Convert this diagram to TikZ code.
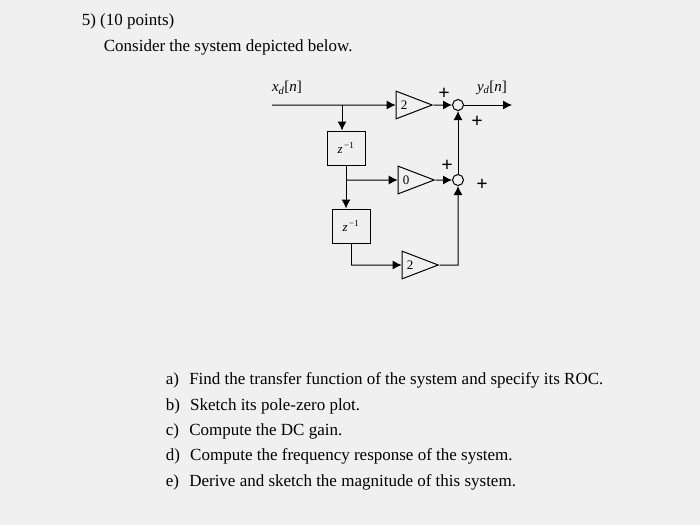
\documentclass[tikz,border=0pt]{standalone}
\usepackage{fontspec}
\setmainfont{Liberation Serif}
\usetikzlibrary{shapes.geometric,arrows.meta}
\tikzset{
	gain/.style={draw,isosceles triangle,isosceles triangle apex angle=42,minimum height=36pt,inner sep=1pt,font=\fontsize{13}{14}\selectfont},
	delay/.style={draw,minimum width=38pt,minimum height=34pt,font=\fontsize{13}{14}\selectfont},
	adder/.style={draw,circle,minimum size=11pt,inner sep=0pt},
	sig/.style={-{Latex[length=9pt,width=9pt]}},
	lbl/.style={font=\fontsize{15}{16}\selectfont},
	sign/.style={font=\fontsize{20}{20}\selectfont\bfseries},
	txt/.style={anchor=base west,font=\fontsize{17}{19}\selectfont}
}
\newcommand{\zinv}{\textit{z}\textsuperscript{\,−1}}
\begin{document}
\begin{tikzpicture}[x=1pt,y=-1pt,line width=1pt]
	\fill[gray!12] (0,0) rectangle (700,525);
	\useasboundingbox (0,0) rectangle (700,525);
	
	\node[txt] at (78,25){5) (10 points)};
	\node[txt] at (100,51){Consider the system depicted below.};
	
	\coordinate (in) at (272,105);
	\coordinate (b1) at (342,105);
	\node[gain] at (404,105)(g1){2};
	\node[adder] at (458,105)(s1){};
	\coordinate (out) at (512,105);
	\node[delay] at (346,148)(d1){\zinv};
	\coordinate (b2) at (346,180);
	\node[gain] at (406,180)(g2){0};
	\node[adder] at (458,180)(s2){};
	\node[delay] at (351,226)(d2){\zinv};
	\coordinate (b3) at (351,265);
	\node[gain] at (410,265)(g3){2};
	\coordinate (c3) at (458,265);
	
	\node[lbl] at (287,88){\textit{x\textsubscript{d}}[\textit{n}]};
	\node[lbl] at (492,88){\textit{y\textsubscript{d}}[\textit{n}]};
	\node[sign] at (444,94){+};
	\node[sign] at (477,122){+};
	\node[sign] at (447,166){+};
	\node[sign] at (482,185){+};
	
	\draw[sig] (in)--(g1.west);
	\draw[sig] (g1.east)--(s1);
	\draw[sig] (s1)--(out);
	\draw[sig] (b1)--(b1|-d1.north);
	\draw (d1.south)--(b2);
	\draw[sig] (b2)--(g2.west);
	\draw[sig] (g2.east)--(s2);
	\draw[sig] (b2)--(b2|-d2.north);
	\draw (d2.south)--(b3);
	\draw[sig] (b3)--(g3.west);
	\draw[sig] (g3.east)--(c3)--(s2);
	\draw[sig] (s2)--(s1);
	
	\node[txt] at (162,384){a)\hspace{6pt} Find the transfer function of the system and specify its ROC.};
	\node[txt] at (162,410){b)\hspace{6pt} Sketch its pole-zero plot.};
	\node[txt] at (162,435){c)\hspace{6pt} Compute the DC gain.};
	\node[txt] at (162,460){d)\hspace{6pt} Compute the frequency response of the system.};
	\node[txt] at (162,486){e)\hspace{6pt} Derive and sketch the magnitude of this system.};
\end{tikzpicture}
\end{document}
